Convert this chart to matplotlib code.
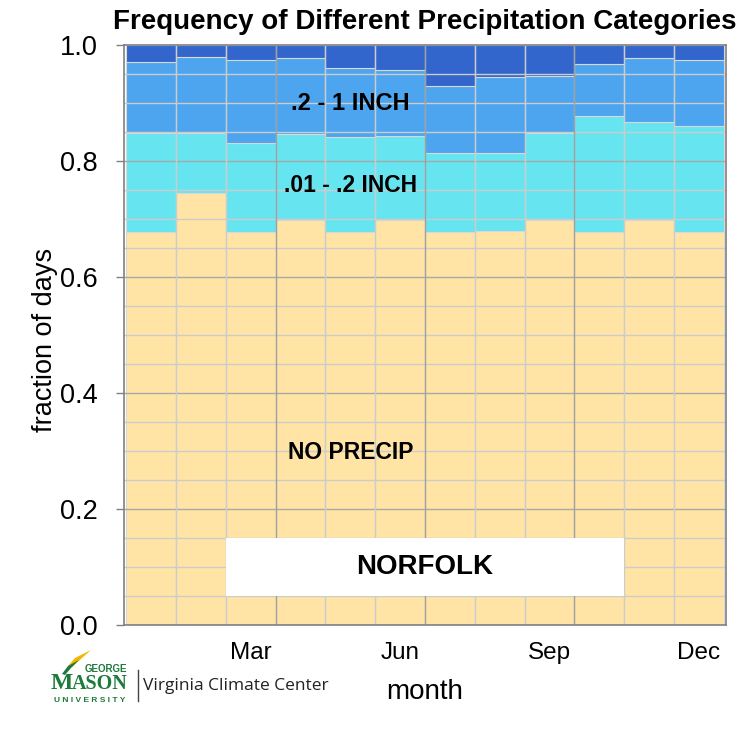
import matplotlib
matplotlib.use("Agg")
import matplotlib.pyplot as plt
from matplotlib.patches import Rectangle, Polygon
import numpy as np

plt.rcParams['font.family'] = ['Liberation Sans', 'DejaVu Sans']

months = np.arange(1, 13)
tick_positions = [3, 6, 9, 12]
tick_labels = ['Mar', 'Jun', 'Sep', 'Dec']

# cumulative fraction tops of each category
no_precip = [0.678, 0.745, 0.678, 0.699, 0.678, 0.699, 0.678, 0.680, 0.699, 0.678, 0.699, 0.678]
light_top = [0.849, 0.849, 0.831, 0.847, 0.842, 0.843, 0.813, 0.813, 0.848, 0.877, 0.868, 0.861]
mod_top = [0.971, 0.979, 0.975, 0.977, 0.960, 0.957, 0.929, 0.944, 0.947, 0.967, 0.977, 0.974]
heavy_top = [1.0] * 12

colors = ['#FFE4A6', '#66E5F0', '#4CA5EE', '#3366CC']

fig = plt.figure(figsize=(7.5, 7.5), dpi=100)
ax = fig.add_axes([124/750, 125/750, 602/750, 580/750])

bottoms = np.zeros(12)
for tops, c in zip([no_precip, light_top, mod_top, heavy_top], colors):
    tops = np.array(tops)
    ax.bar(months, tops - bottoms, bottom=bottoms, width=1.0, color=c,
           edgecolor='#d8d8d8', linewidth=0.8, zorder=1)
    bottoms = tops

ax.set_xlim(0.45, 12.55)
ax.set_ylim(0, 1.0)

# grid lines on top of bars
for y in np.arange(0.05, 1.0, 0.05):
    major = abs(y / 0.2 - round(y / 0.2)) < 1e-6
    ax.axhline(y, color='#a8a8a8' if major else '#cccccc', lw=1.0, zorder=2)
for x in np.arange(1.5, 12.5, 1.0):
    major = x in (3.5, 6.5, 9.5)
    ax.axvline(x, color='#a0a0a0' if major else '#cccccc', lw=1.0, zorder=2)

ax.set_xticks(tick_positions)
ax.set_xticklabels(tick_labels, fontsize=17.5)
ax.tick_params(axis='x', length=0, pad=12)
ax.set_yticks([0, 0.2, 0.4, 0.6, 0.8, 1.0])
ax.set_yticklabels(['0.0', '0.2', '0.4', '0.6', '0.8', '1.0'], fontsize=19.5)
ax.tick_params(axis='y', length=6, color='#808080', width=1, pad=13)
for s in ax.spines.values():
    s.set_color('#808080')
    s.set_linewidth(1.2)

fig.text(45/750, 1 - 340/750, 'fraction of days', fontsize=19.5, rotation=90,
         ha='center', va='center')
fig.text(425/750, 1 - 692/750, 'month', fontsize=20, ha='center', va='center')
fig.text(425/750, 1 - 22/750, 'Frequency of Different Precipitation Categories',
         fontsize=20, fontweight='bold', ha='center', va='center')

ax.text(5.0, 0.90, '.2 - 1 INCH', fontsize=17, fontweight='bold', ha='center', va='center', zorder=3)
ax.text(5.0, 0.757, '.01 - .2 INCH', fontsize=16.5, fontweight='bold', ha='center', va='center', zorder=3)
ax.text(5.0, 0.298, 'NO PRECIP', fontsize=16.5, fontweight='bold', ha='center', va='center', zorder=3)

ax.add_patch(Rectangle((2.5, 0.05), 8.0, 0.10, facecolor='white', edgecolor='none', zorder=3))
ax.text(6.5, 0.10, 'NORFOLK', fontsize=20, fontweight='bold', ha='center', va='center', zorder=4)

# logo
green = '#1C7A3A'
fig.text(51/750, 1 - 689/750, 'M', fontsize=17, fontweight='bold', family='Liberation Serif',
         color=green, ha='left', va='baseline')
fig.text(72/750, 1 - 689/750, 'ASON', fontsize=14.5, fontweight='bold', family='Liberation Serif',
         color=green, ha='left', va='baseline')
fig.text(106/750, 1 - 672/750, 'GEORGE', fontsize=7, fontweight='bold', color=green,
         ha='center', va='baseline')
fig.text(90/750, 1 - 701/750, 'U N I V E R S I T Y', fontsize=6, fontweight='bold', color=green,
         ha='center', va='center')
fig.add_artist(Polygon([[68/750, 1 - 666/750], [75/750, 1 - 658/750], [91/750, 1 - 650/750],
                        [82/750, 1 - 658/750], [72/750, 1 - 667/750]],
                       closed=True, facecolor='#F2B700', edgecolor='none', transform=fig.transFigure))
fig.add_artist(Polygon([[62/750, 1 - 674/750], [68/750, 1 - 666/750], [79/750, 1 - 660/750],
                        [71/750, 1 - 668/750], [65/750, 1 - 675/750]],
                       closed=True, facecolor=green, edgecolor='none', transform=fig.transFigure))
fig.add_artist(plt.Line2D([138/750, 138/750], [1 - 670/750, 1 - 701/750], color='#444444', lw=1,
                          transform=fig.transFigure))
fig.text(143/750, 1 - 686/750, 'Virginia Climate Center', fontsize=12.5, family='Open Sans',
         color='#222222', ha='left', va='center')

fig.savefig('out.png', dpi=100)
